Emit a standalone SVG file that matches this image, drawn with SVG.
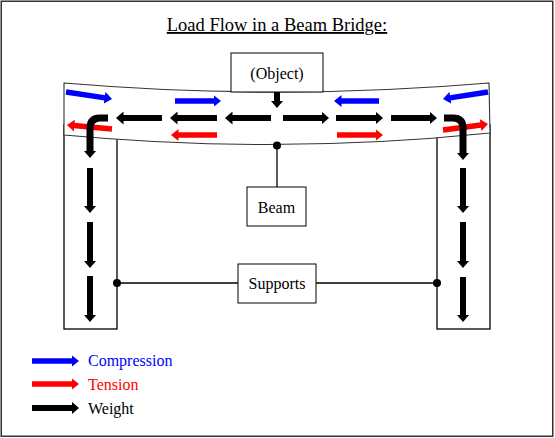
<svg xmlns="http://www.w3.org/2000/svg" width="555" height="438" viewBox="0 0 555 438">
<style>
.lbl{font-family:"Liberation Serif","Times New Roman",serif;font-size:16px;text-anchor:middle;fill:#000}
.box{fill:#fff;stroke:#000;stroke-width:1}
.sup{fill:#fff;stroke:#000;stroke-width:1.3}
.conn{stroke:#000;stroke-width:1.3;fill:none}
.w{stroke:#000;stroke-width:6;fill:none;marker-end:url(#hk)}
.wb{stroke:#000;stroke-width:7;fill:none;marker-end:url(#hk)}
.c{stroke:#0000ff;stroke-width:5.5;fill:none;marker-end:url(#hb)}
.t{stroke:#ff0000;stroke-width:5.5;fill:none;marker-end:url(#hr)}
.leg{font-family:"Liberation Serif","Times New Roman",serif;font-size:16px}
</style>
<defs>
<marker id="hk" markerUnits="userSpaceOnUse" viewBox="0 0 7.5 13" markerWidth="7.5" markerHeight="13" refX="0.5" refY="6.5" orient="auto"><path d="M0,0 L7.5,6.5 L0,13 Z" fill="#000"/></marker>
<marker id="hb" markerUnits="userSpaceOnUse" viewBox="0 0 7.5 12" markerWidth="7.5" markerHeight="12" refX="0.5" refY="6" orient="auto"><path d="M0,0 L7.5,6 L0,12 Z" fill="#0000ff"/></marker>
<marker id="hr" markerUnits="userSpaceOnUse" viewBox="0 0 7.5 12" markerWidth="7.5" markerHeight="12" refX="0.5" refY="6" orient="auto"><path d="M0,0 L7.5,6 L0,12 Z" fill="#ff0000"/></marker>
</defs>
<rect x="1.25" y="1.25" width="551.5" height="435" fill="#fff" stroke="#333" stroke-width="1.5"/>
<g id="title">
<text x="277" y="31" font-family="'Liberation Serif','Times New Roman',serif" font-size="18.5" text-anchor="middle" text-decoration="underline">Load Flow in a Beam Bridge:</text>
</g>
<g id="left-support"><rect class="sup" x="64" y="125" width="53" height="204"/></g>
<g id="right-support"><rect class="sup" x="437" y="125" width="53" height="204"/></g>
<g id="beam-shape"><path d="M64,83 Q277,101 489,83 L490,133 Q277,155 64,135 Z" fill="#fff" stroke="#333" stroke-width="1.1"/></g>
<g id="object"><rect class="box" x="231" y="53" width="92" height="39"/><text class="lbl" x="277" y="79">(Object)</text></g>
<g id="beam"><rect class="box" x="247" y="187" width="59" height="39"/><text class="lbl" x="276.5" y="213">Beam</text></g>
<g id="supports"><rect class="box" x="238" y="264" width="78" height="39"/><text class="lbl" x="277" y="289">Supports</text></g>
<g id="connectors">
<line class="conn" x1="277" y1="145" x2="277" y2="187"/>
<line class="conn" x1="117" y1="283" x2="238" y2="283"/>
<line class="conn" x1="316" y1="283" x2="437" y2="283"/>
<circle cx="277" cy="145.5" r="4" fill="#000"/>
<circle cx="117" cy="283" r="4" fill="#000"/>
<circle cx="437" cy="283" r="4" fill="#000"/>
</g>
<g id="tension-arrows">
<path class="t" d="M112,129 L73.9,125.6"/>
<path class="t" d="M217,135 L178,135"/>
<path class="t" d="M337,135 L376,135"/>
<path class="t" d="M443,130 L481.1,124.9"/>
</g>
<g id="compression-arrows">
<path class="c" d="M66,92 L105.1,97.9"/>
<path class="c" d="M175,101 L214,101"/>
<path class="c" d="M379,101 L341,101"/>
<path class="c" d="M488,92 L449.9,97.9"/>
</g>
<g id="weight-arrows">
<path class="w" d="M277,92 L277,101" stroke-width="5"/>
<path class="w" d="M162,118 L123,118"/>
<path class="w" d="M217,118 L177,118"/>
<path class="w" d="M271,118 L232,118"/>
<path class="w" d="M283,118 L322,118"/>
<path class="w" d="M336,118 L376,118"/>
<path class="w" d="M391,118 L430,118"/>
<path class="wb" d="M108,118 L100,118 Q90,118 90,128 L90,151"/>
<path class="wb" d="M444,118 L453,118 Q463,118 463,128 L463,153"/>
<path class="w" d="M90,168 L90,206"/>
<path class="w" d="M90,222 L90,261"/>
<path class="w" d="M90,276 L90,315"/>
<path class="w" d="M463,168 L463,206"/>
<path class="w" d="M463,222 L463,261"/>
<path class="w" d="M463,277 L463,315"/>
</g>
<g id="legend">
<path class="c" d="M32,361 L72,361" stroke-width="6.5"/>
<path class="t" d="M32,384 L72,384" stroke-width="6.5"/>
<path class="w" d="M32,408 L72,408" stroke-width="6.5"/>
<text class="leg" x="88" y="366" fill="#0000ff">Compression</text>
<text class="leg" x="88" y="390" fill="#ff0000">Tension</text>
<text class="leg" x="88" y="414" fill="#000">Weight</text>
</g>
</svg>
